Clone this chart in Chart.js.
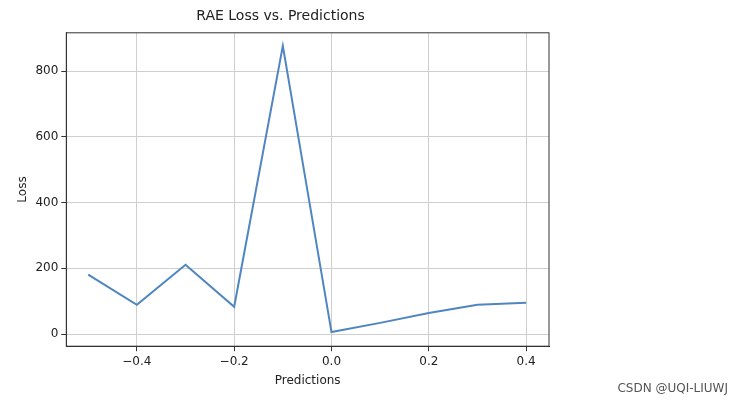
<!DOCTYPE html>
<html><head><script src="https://cdn.jsdelivr.net/npm/chart.js@4"></script>
<style>body{margin:0;background:#fff}#w{position:absolute;left:0;top:0;width:735px;height:406px}</style></head>
<body><div id="w"><canvas id="c"></canvas></div>
<script>
const predictions=[-0.5,-0.4,-0.3,-0.2,-0.1,0.0,0.1,0.2,0.3,0.4];
const loss=[181,89,211,83,877,6,34,64,89,95];
const xTicks=[-0.4,-0.2,0.0,0.2,0.4];
const yTicks=[0,200,400,600,800];
const wm={id:'wm',afterDraw(ch){const c=ch.ctx,a=ch.chartArea;c.save();c.strokeStyle='#333';c.lineWidth=1;c.strokeRect(a.left,a.top,a.right-a.left,a.bottom-a.top);c.font='12px "DejaVu Sans"';c.fillStyle='#555';c.textAlign='right';c.fillText('CSDN @UQI-LIUWJ',728,392);c.restore();}};
new Chart(document.getElementById('c'),{type:'line',
data:{datasets:[{data:predictions.map((x,i)=>({x,y:loss[i]})),borderColor:'#4f86c0',borderWidth:2,pointRadius:0,tension:0}]},
options:{responsive:true,maintainAspectRatio:false,animation:false,
layout:{padding:{left:12,right:186,top:2,bottom:14}},
plugins:{legend:{display:false},tooltip:{enabled:false},
title:{display:true,text:'RAE Loss vs. Predictions',color:'#222',font:{family:'DejaVu Sans',size:14,weight:'normal'},padding:{top:6,bottom:8}}},
scales:{x:{type:'linear',min:-0.545,max:0.447,
afterBuildTicks(s){s.ticks=xTicks.map(v=>({value:v}));},
ticks:{callback:v=>v===0?'0.0':(v<0?'\u2212':'')+Math.abs(v).toFixed(1),color:'#222',font:{family:'DejaVu Sans',size:12},maxRotation:0},
grid:{color:'#cfcfcf',tickColor:'#333',tickLength:5},border:{color:'#333',width:1},
title:{display:true,text:'Predictions',color:'#222',font:{family:'DejaVu Sans',size:12},padding:{top:2}}},
y:{min:-37,max:917,
afterBuildTicks(s){s.ticks=yTicks.map(v=>({value:v}));},
ticks:{color:'#222',font:{family:'DejaVu Sans',size:12}},
grid:{color:'#cfcfcf',tickColor:'#333',tickLength:5},border:{color:'#333',width:1},
title:{display:true,text:'Loss',color:'#222',font:{family:'DejaVu Sans',size:12},padding:{bottom:2}}}}},
plugins:[wm]});
</script></body></html>
